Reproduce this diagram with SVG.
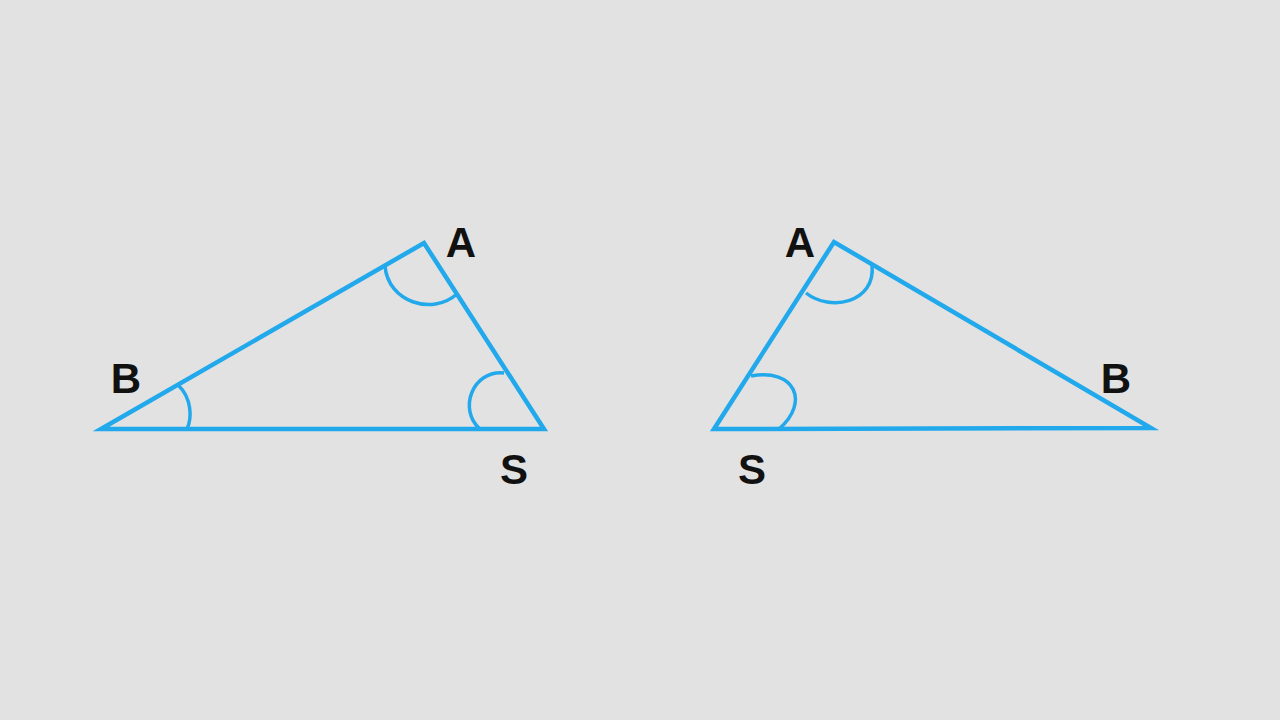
<svg xmlns="http://www.w3.org/2000/svg" width="1280" height="720" viewBox="0 0 1280 720">
<style>
.tri{fill:none;stroke:#22a9ec;stroke-width:4.5;stroke-linejoin:miter}
.arc{fill:none;stroke:#22a9ec;stroke-width:3.5}
.lbl{font-family:"Liberation Sans",Arial,sans-serif;font-weight:bold;font-size:42px;fill:#111;text-anchor:middle}
</style>
<rect width="1280" height="720" fill="#e2e2e2"/>
<g id="triangle-left">
<polygon class="tri" points="101,429 424,243 544,429"/>
<path class="arc" d="M178,385 C192,398 192,418 187,429"/>
<path class="arc" d="M385,266 C388,302 432,316 457,294"/>
<path class="arc" d="M504,373 C472,370 458,410 480,429"/>
<text class="lbl" x="461" y="257">A</text>
<text class="lbl" x="126" y="393">B</text>
<text class="lbl" x="514" y="484">S</text>
</g>
<g id="triangle-right">
<polygon class="tri" points="714,429 834,242 1151,428"/>
<path class="arc" d="M806,293 C830,312 876,303 872,265"/>
<path class="arc" d="M751,376 C795,368 810,402 779,429"/>
<text class="lbl" x="800" y="257">A</text>
<text class="lbl" x="1116" y="393">B</text>
<text class="lbl" x="752" y="484">S</text>
</g>
<g id="connectors"/>
</svg>
